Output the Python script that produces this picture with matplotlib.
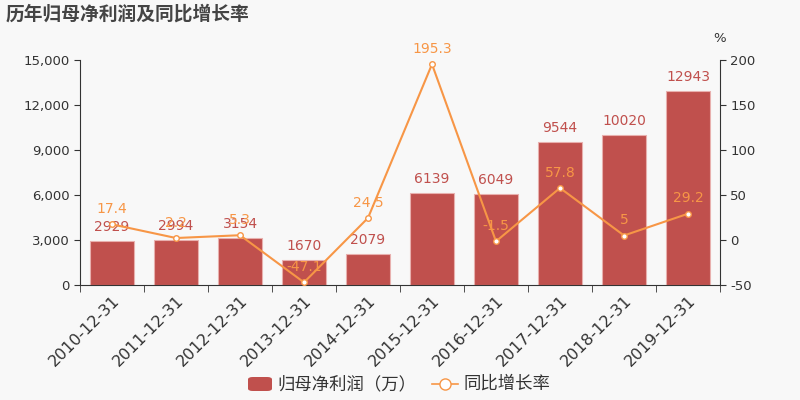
import matplotlib
matplotlib.use("Agg")
import matplotlib.pyplot as plt
import numpy as np

plt.rcParams['font.family'] = ['Noto Sans CJK SC', 'DejaVu Sans']

categories = ["2010-12-31", "2011-12-31", "2012-12-31", "2013-12-31", "2014-12-31",
              "2015-12-31", "2016-12-31", "2017-12-31", "2018-12-31", "2019-12-31"]
profit = [2929, 2994, 3154, 1670, 2079, 6139, 6049, 9544, 10020, 12943]
growth = [17.4, 2.2, 5.3, -47.1, 24.5, 195.3, -1.5, 57.8, 5, 29.2]
growth_labels = ["17.4", "2.2", "5.3", "-47.1", "24.5", "195.3", "-1.5", "57.8", "5", "29.2"]
left_ticks = [0, 3000, 6000, 9000, 12000, 15000]
right_ticks = [-50, 0, 50, 100, 150, 200]

bg = '#f8f8f8'
bar_color = '#c0504d'
line_color = '#f79646'
text_color = '#333333'

fig = plt.figure(figsize=(8, 4), dpi=100, facecolor=bg)
ax = fig.add_axes([0.1, 0.2875, 0.8, 0.5625])
ax.set_facecolor(bg)
x = np.arange(len(categories))
ax.bar(x, profit, width=0.7, color=bar_color, edgecolor='#e8b0ae', linewidth=0.8, zorder=2)
ax.set_xlim(-0.5, len(categories) - 0.5)
ax.set_ylim(0, 15000)
ax.set_yticks(left_ticks)
ax.set_yticklabels([f"{v:,}" for v in left_ticks], fontsize=9.5, color=text_color,
                   family='DejaVu Sans')
ax.set_xticks(x)
ax.set_xticklabels(categories, rotation=45, ha='right', rotation_mode='anchor',
                   fontsize=11.5, color=text_color, family='DejaVu Sans')
ax.tick_params(axis='x', length=0, pad=6)
ax.set_xticks(np.arange(-0.5, len(categories), 1), minor=True)
ax.tick_params(axis='x', which='minor', length=5, color=text_color)
ax.tick_params(axis='y', length=4, color=text_color)
for s in ['top', 'right']:
    ax.spines[s].set_visible(False)
ax.spines['left'].set_color(text_color)
ax.spines['bottom'].set_color(text_color)

for xi, v in zip(x, profit):
    ax.annotate(str(v), (xi, v), xytext=(0, 5), textcoords='offset points',
                ha='center', va='bottom', fontsize=10, color=bar_color, family='DejaVu Sans')

ax2 = ax.twinx()
ax2.set_ylim(-50, 200)
ax2.set_yticks(right_ticks)
ax2.set_yticklabels([str(v) for v in right_ticks], fontsize=9.5, color=text_color,
                    family='DejaVu Sans')
ax2.tick_params(axis='y', length=4, color=text_color)
for s in ['top', 'left', 'bottom']:
    ax2.spines[s].set_visible(False)
ax2.spines['right'].set_color(text_color)
ax2.plot(x, growth, color=line_color, linewidth=1.5, marker='o', markersize=4,
         markerfacecolor='white', markeredgecolor=line_color, markeredgewidth=1, zorder=3)
for xi, v, lab in zip(x, growth, growth_labels):
    ax2.annotate(lab, (xi, v), xytext=(0, 6), textcoords='offset points',
                 ha='center', va='bottom', fontsize=10, color=line_color, family='DejaVu Sans')

fig.text(0.9, 0.905, '%', ha='center', va='center', fontsize=9.5, color=text_color,
         family='DejaVu Sans')
fig.text(0.007, 0.965, '历年归母净利润及同比增长率', ha='left', va='center', fontsize=13.5,
         fontweight='bold', color='#444444')

from matplotlib.patches import FancyBboxPatch
from matplotlib.lines import Line2D
# legend
patch = FancyBboxPatch((0.31, 0.0225), 0.03, 0.035, boxstyle='round,pad=0,rounding_size=0.006',
                       transform=fig.transFigure, facecolor=bar_color, edgecolor='none')
fig.patches.append(patch)
fig.text(0.347, 0.04, '归母净利润（万）', ha='left', va='center', fontsize=12.5, color=text_color)
l = Line2D([0.54, 0.572], [0.04, 0.04], transform=fig.transFigure, color=line_color, linewidth=1.2)
fig.lines.append(l)
m = Line2D([0.556], [0.04], transform=fig.transFigure, marker='o', markersize=8,
           markerfacecolor='white', markeredgecolor=line_color, markeredgewidth=1)
fig.lines.append(m)
fig.text(0.579, 0.04, '同比增长率', ha='left', va='center', fontsize=12.5, color=text_color)

fig.savefig('out.png', dpi=100, facecolor=bg)
